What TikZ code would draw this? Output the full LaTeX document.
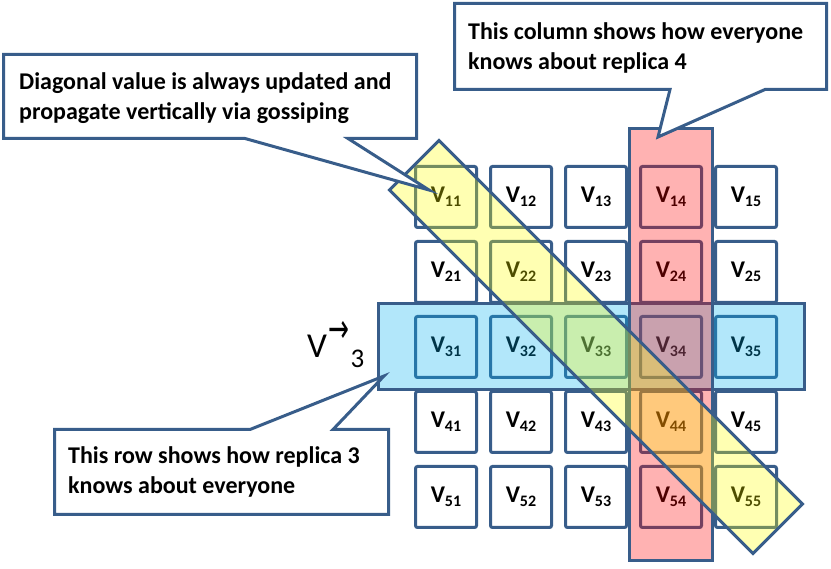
\documentclass[tikz,border=0pt]{standalone}
\usepackage{fontspec}
\setmainfont{Carlito}
\newfontfamily\arrowfont{DejaVu Sans}
\usetikzlibrary{calc}
\definecolor{edge}{RGB}{56,93,138}
\definecolor{bandblue}{RGB}{0,176,240}
\definecolor{bandred}{RGB}{255,0,0}
\definecolor{bandyellow}{RGB}{255,255,0}
\newcommand\cellv[1]{V\raisebox{-4pt}{\fontsize{16}{16}\selectfont #1}}
\tikzset{
  cell/.style={draw=edge, fill=white, line width=3pt, rounded corners=2pt,
    minimum size=61pt, inner sep=0pt, font=\fontsize{24}{24}\selectfont\bfseries},
  overlay/.style={draw=edge, line width=3pt, fill opacity=0.3, inner sep=0pt},
  callout/.style={draw=edge, fill=white, line width=3pt, line join=miter},
  callouttext/.style={align=left, inner sep=0pt, font=\fontsize{24}{30}\selectfont\bfseries}
}
\begin{document}
\begin{tikzpicture}[x=1pt,y=-1pt]
\useasboundingbox (0,0) rectangle (831,569);
% grid of cells
\foreach \i in {1,...,5}{
  \foreach \j in {1,...,5}{
    \node[cell] (v\i\j) at ({446+75*(\j-1)},{197+75*(\i-1)}) {\cellv{\i\j}};
  }
}
% overlays
\node[overlay, fill=bandblue, minimum width=426pt, minimum height=86pt] (row3) at (591,347) {};
\node[overlay, fill=bandred, minimum width=83pt, minimum height=432pt] (col4) at (671,344.5) {};
\node[overlay, fill=bandyellow, rotate=-45, minimum width=514pt, minimum height=70pt] (diag) at (v33.center) {};
% label V->3
\node[font=\fontsize{35}{35}\selectfont, inner sep=0pt, anchor=base] (vlab) at (317,358) {V};
\node[font=\fontsize{25}{25}\selectfont\arrowfont, inner sep=0pt] (vlabarrow) at (339,332) {\scalebox{1}[1.6]{→}};
\node[font=\fontsize{27}{27}\selectfont, inner sep=0pt, anchor=base] (vlabsub) at (357.5,367.5) {3};
% callout 1
\coordinate (t1) at (429,190);
\draw[callout] (3.5,54.5) -- (416.5,54.5) -- (416.5,138.5) -- (348,138.5) -- (t1) -- (245,138.5) -- (3.5,138.5) -- cycle;
\node[callouttext, anchor=west] (n1) at (19,98) {Diagonal value is always updated and\\propagate vertically via gossiping};
% callout 2
\coordinate (t2) at (658,137);
\draw[callout] (454.5,3.5) -- (826.5,3.5) -- (826.5,89.5) -- (765,89.5) -- (t2) -- (670,89.5) -- (454.5,89.5) -- cycle;
\node[callouttext, anchor=west] (n2) at (468,47.5) {This column shows how everyone\\knows about replica 4};
% callout 3
\coordinate (t3) at (384,376);
\draw[callout] (54.5,429.5) -- (250,429.5) -- (t3) -- (333,429.5) -- (388.5,429.5) -- (388.5,514.5) -- (54.5,514.5) -- cycle;
\node[callouttext, anchor=west] (n3) at (68,472) {This row shows how replica 3\\knows about everyone};
\end{tikzpicture}
\end{document}
